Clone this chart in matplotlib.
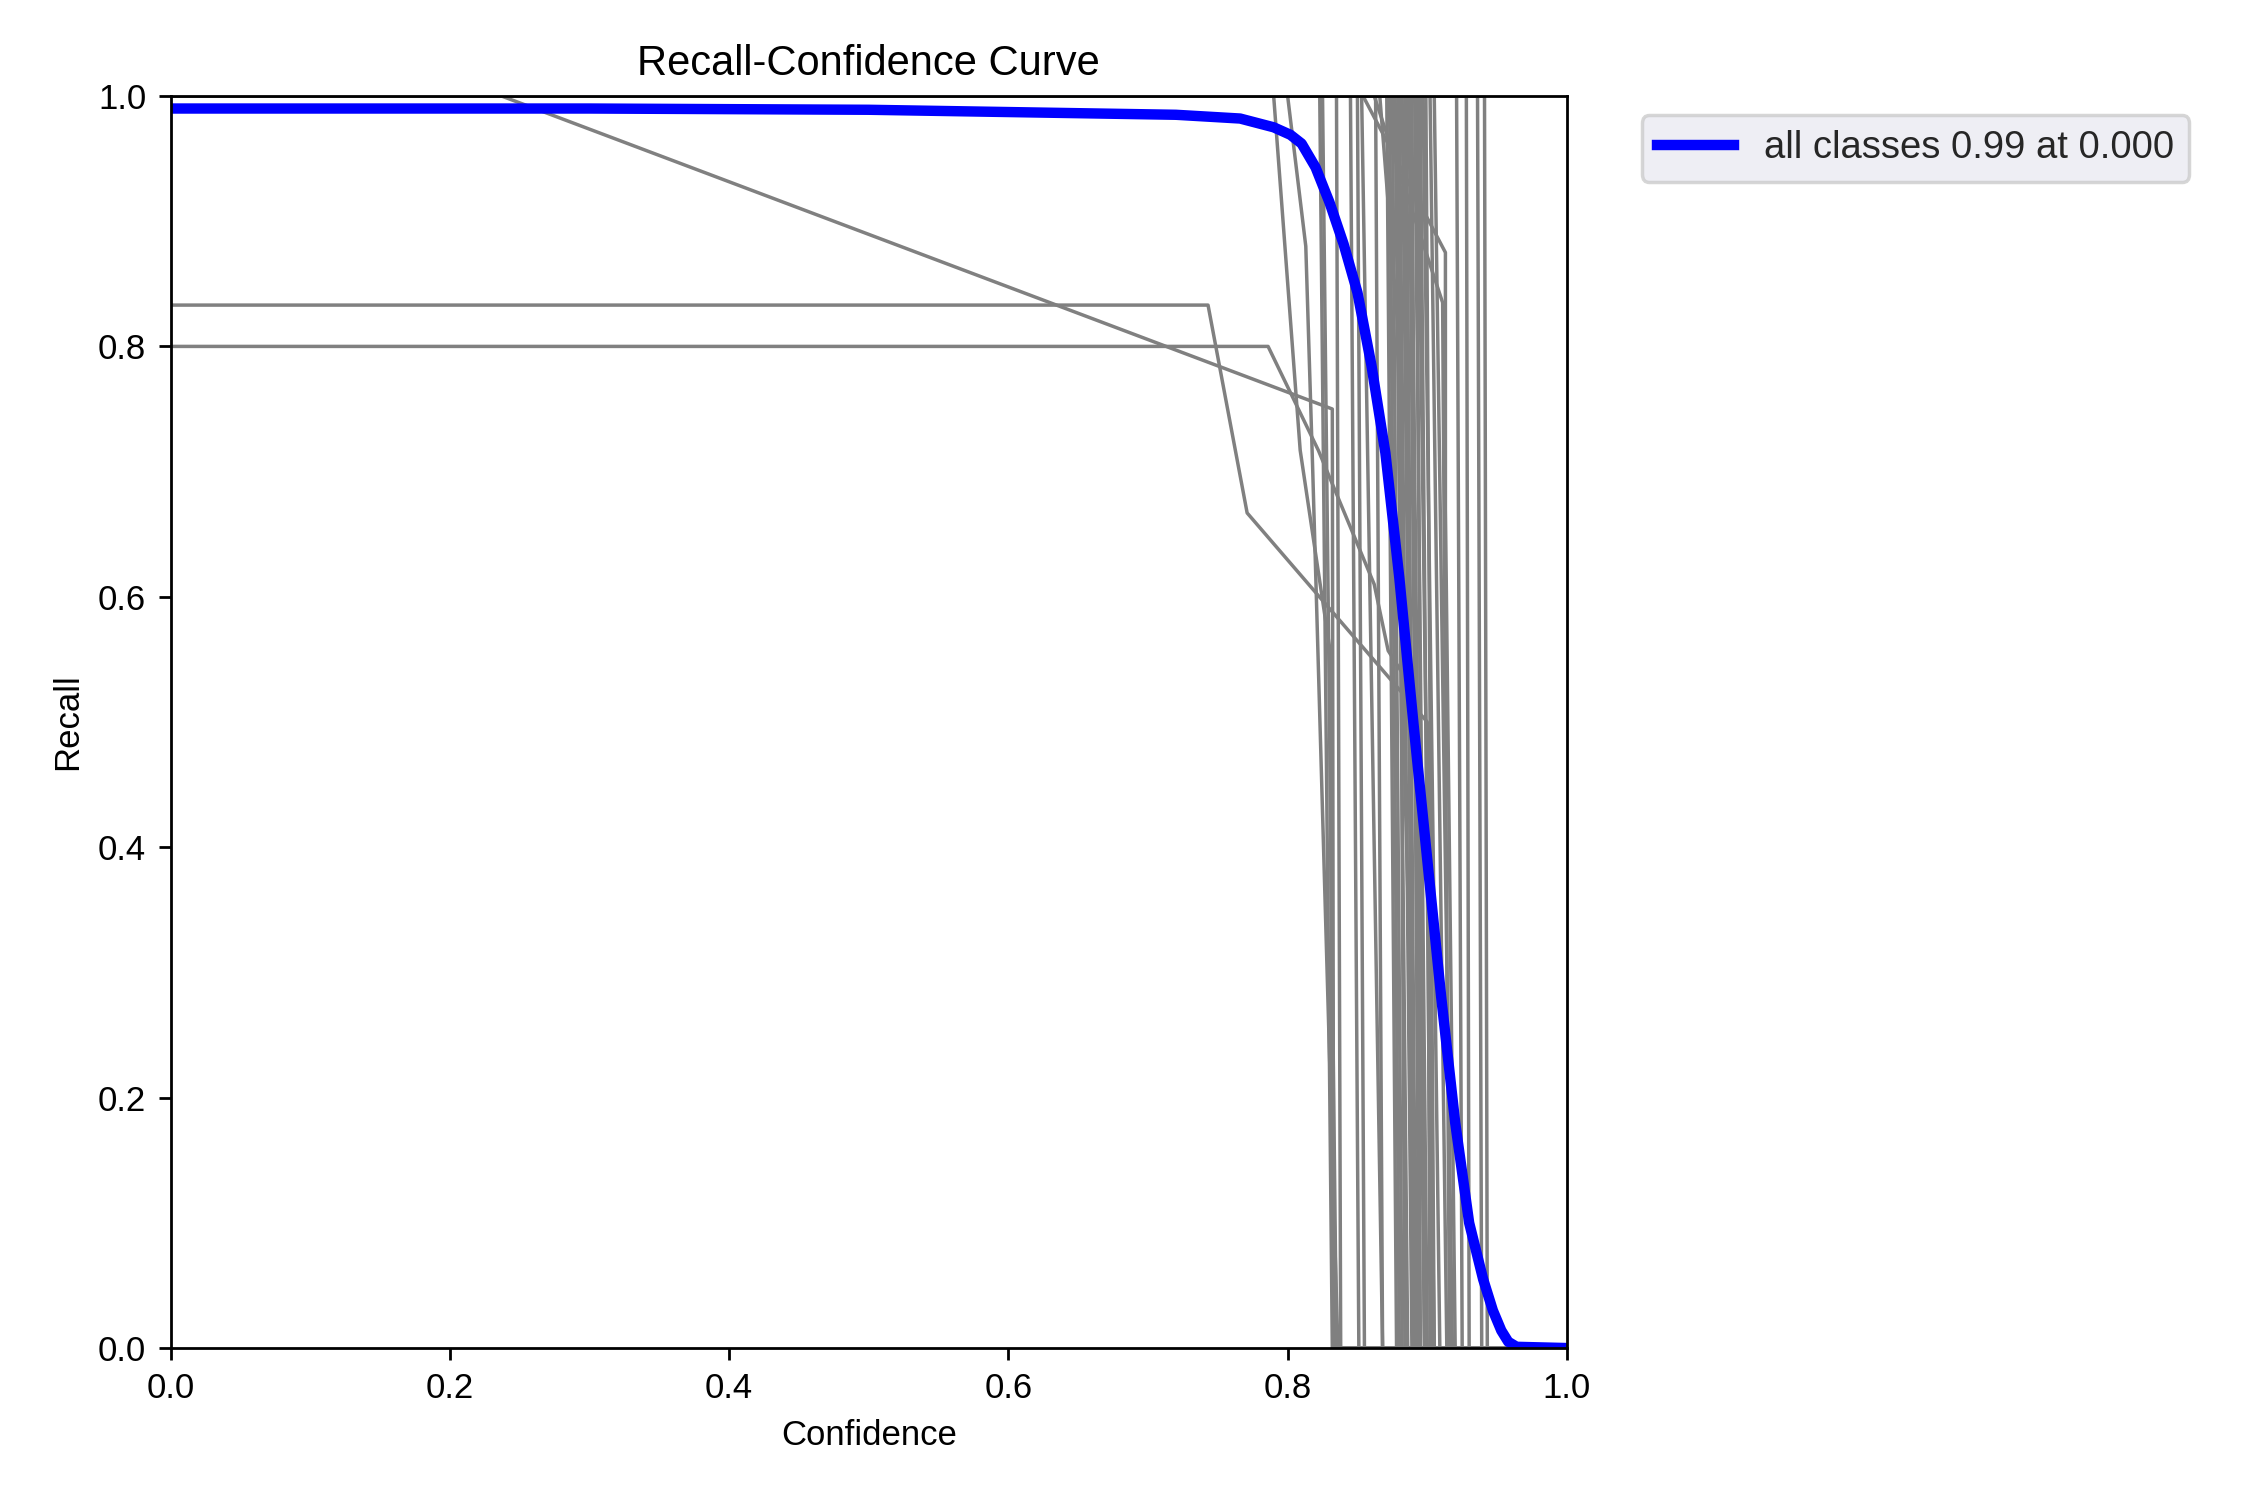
import matplotlib

matplotlib.use("Agg")
import matplotlib.pyplot as plt

plt.rcParams["font.family"] = ["Liberation Sans", "DejaVu Sans"]

# mean recall over all classes
mean_conf = [0.0, 0.3, 0.5, 0.72, 0.766, 0.79, 0.802, 0.81, 0.82, 0.83, 0.84,
             0.85, 0.86, 0.87, 0.88, 0.89, 0.90, 0.91, 0.92, 0.93, 0.94,
             0.947, 0.953, 0.958, 0.964, 1.0]
mean_recall = [0.99, 0.99, 0.989, 0.985, 0.982, 0.975, 0.969, 0.962, 0.943,
               0.915, 0.882, 0.843, 0.785, 0.715, 0.615, 0.50, 0.39, 0.28,
               0.18, 0.10, 0.055, 0.03, 0.014, 0.005, 0.001, 0.0]

# per-class curves with some shape (confidence vertices, recall vertices)
shaped_conf = [
    [0.0, 0.237, 0.832, 0.833, 1.0],
    [0.0, 0.743, 0.771, 0.900, 0.902, 1.0],
    [0.0, 0.786, 0.822, 0.862, 0.872, 0.893, 0.895, 1.0],
    [0.0, 0.790, 0.809, 0.830, 0.833, 1.0],
    [0.0, 0.800, 0.813, 0.818, 0.836, 1.0],
    [0.0, 0.854, 0.913, 0.913, 0.920, 1.0],
    [0.0, 0.862, 0.911, 0.916, 1.0],
    [0.0, 0.866, 0.880, 0.884, 0.895, 1.0],
]
shaped_recall = [
    [1.0, 1.0, 0.75, 0.0, 0.0],
    [0.833, 0.833, 0.667, 0.5, 0.0, 0.0],
    [0.8, 0.8, 0.717, 0.61, 0.557, 0.52, 0.0, 0.0],
    [1.0, 1.0, 0.717, 0.56, 0.0, 0.0],
    [1.0, 1.0, 0.88, 0.70, 0.0, 0.0],
    [1.0, 1.0, 0.875, 0.67, 0.0, 0.0],
    [1.0, 1.0, 0.835, 0.0, 0.0],
    [1.0, 1.0, 0.80, 0.45, 0.0, 0.0],
]

# per-class curves that fall straight from 1 to 0 (confidence at top, at bottom)
drop_top = [0.823, 0.825, 0.835, 0.845, 0.850, 0.853, 0.863, 0.871, 0.873,
            0.875, 0.877, 0.879, 0.880, 0.882, 0.884, 0.885, 0.887, 0.888,
            0.889, 0.891, 0.892, 0.893, 0.895, 0.897, 0.899, 0.902, 0.905,
            0.921, 0.928, 0.936, 0.941]
drop_bottom = [0.832, 0.835, 0.838, 0.851, 0.855, 0.868, 0.868, 0.878, 0.880,
               0.882, 0.886, 0.884, 0.889, 0.892, 0.890, 0.892, 0.895, 0.898,
               0.894, 0.900, 0.898, 0.905, 0.903, 0.909, 0.905, 0.914, 0.918,
               0.925, 0.930, 0.939, 0.943]

fig, ax = plt.subplots(1, 1, figsize=(9, 6), dpi=250)
fig.subplots_adjust(left=0.0758, right=0.6964, top=0.936, bottom=0.1013)

for xs, ys in zip(shaped_conf, shaped_recall):
    ax.plot(xs, ys, linewidth=1, color="grey")
for t, b in zip(drop_top, drop_bottom):
    ax.plot([0.0, t, b, 1.0], [1.0, 1.0, 0.0, 0.0], linewidth=1, color="grey")

ax.plot(mean_conf, mean_recall, linewidth=3, color="blue",
        label="all classes 0.99 at 0.000")

ax.set_xlabel("Confidence")
ax.set_ylabel("Recall")
ax.set_xlim(0, 1)
ax.set_ylim(0, 1)
ax.legend(bbox_to_anchor=(1.04, 1), loc="upper left", facecolor="#eaeaf2",
          edgecolor="#cccccc", labelcolor="#262626", fontsize=11)
ax.set_title("Recall-Confidence Curve")

fig.savefig("out.png", dpi=250)
plt.close(fig)
